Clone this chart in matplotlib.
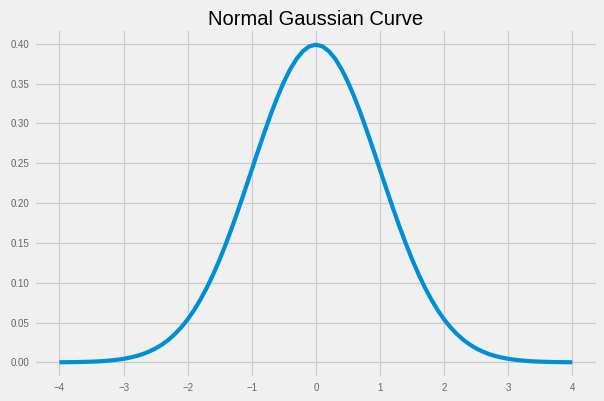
import matplotlib
matplotlib.use("Agg")
import matplotlib.pyplot as plt

# curve at 0.1 steps (symmetric about 0)
x_vals = [round(-4 + 0.1 * i, 1) for i in range(81)]
y_right = [0.3989, 0.3970, 0.3910, 0.3814, 0.3683, 0.3521, 0.3332, 0.3123, 0.2897, 0.2661,
           0.2420, 0.2179, 0.1942, 0.1714, 0.1497, 0.1295, 0.1109, 0.0940, 0.0790, 0.0656,
           0.0540, 0.0440, 0.0355, 0.0283, 0.0224, 0.0175, 0.0136, 0.0104, 0.0079, 0.0060,
           0.0044, 0.0033, 0.0024, 0.0017, 0.0012, 0.0009, 0.0006, 0.0004, 0.0003, 0.0002,
           0.0001]
y_vals = y_right[:0:-1] + y_right

plt.style.use("fivethirtyeight")
plt.rcParams["font.family"] = ["Liberation Sans", "DejaVu Sans"]

fig = plt.figure(figsize=(6.04, 4.01), dpi=100)
ax = fig.add_axes([0.056, 0.057, 0.934, 0.871])
ax.plot(x_vals, y_vals, color="#008fd5", linewidth=3.0, solid_joinstyle="round")
ax.set_title("Normal Gaussian Curve", fontsize=14.5, color="black", pad=3)
ax.tick_params(labelsize=7, colors="#666666", length=0)
ax.grid(color="#cbcbcb", linewidth=0.9)
ax.set_yticks([0.0, 0.05, 0.1, 0.15, 0.2, 0.25, 0.3, 0.35, 0.4])
ax.set_yticklabels(["0.00", "0.05", "0.10", "0.15", "0.20", "0.25", "0.30", "0.35", "0.40"])

fig.savefig("out.png", dpi=100, facecolor=fig.get_facecolor())
